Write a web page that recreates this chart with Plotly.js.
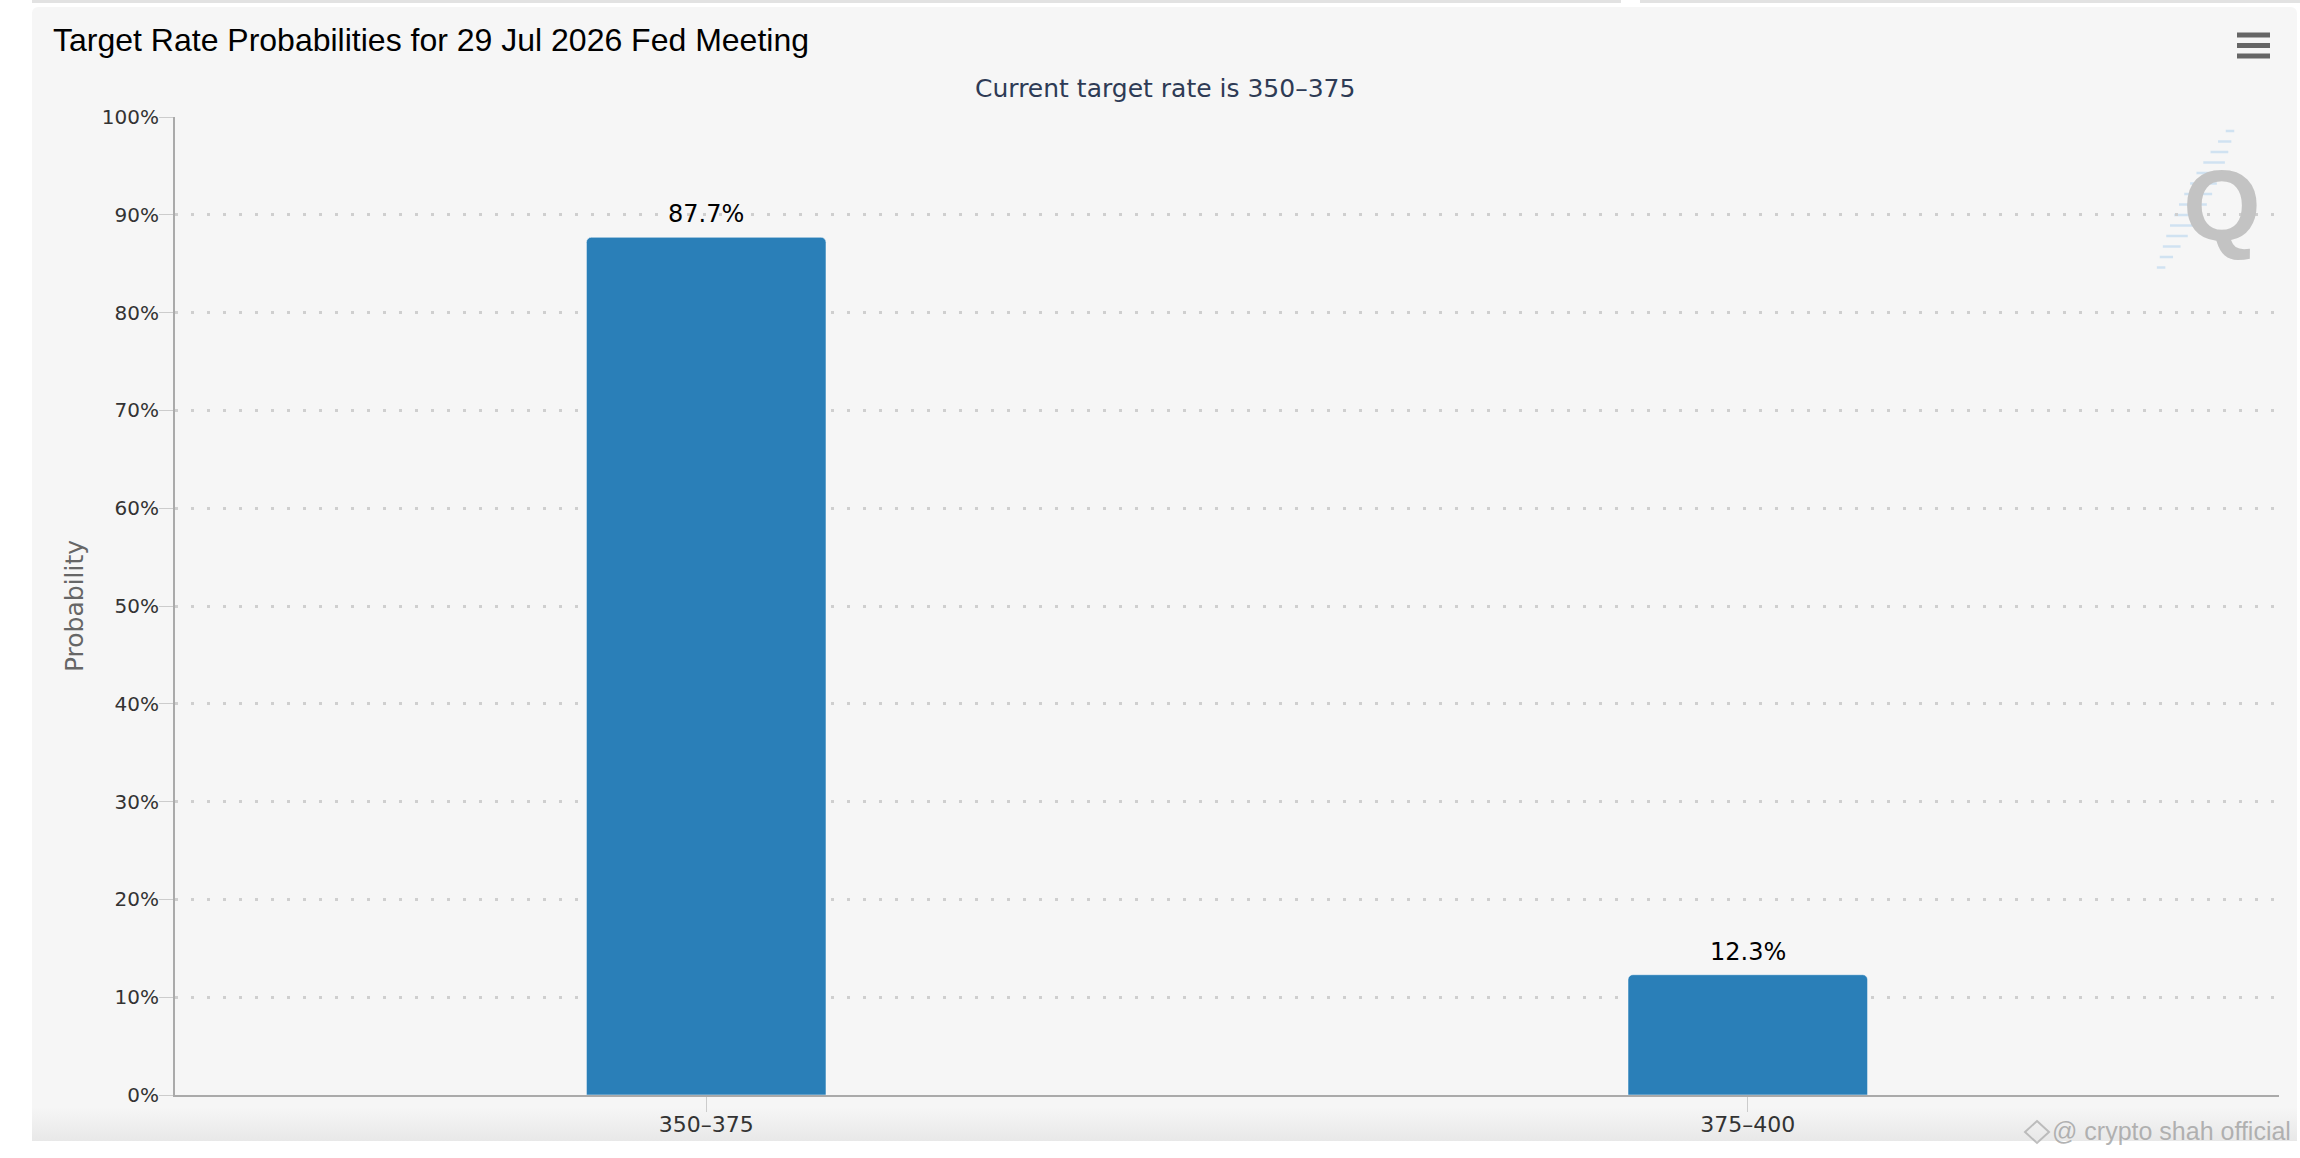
<!DOCTYPE html>
<html>
<head>
<meta charset="utf-8">
<script src="https://cdn.plot.ly/plotly-3.0.1.min.js"></script>
<style>
  html, body { margin: 0; padding: 0; background: #ffffff; width: 2300px; height: 1158px; overflow: hidden; }
  #topline1 { position: absolute; left: 32px; top: 0; width: 1589px; height: 3px; background: #e2e2e2; }
  #topline2 { position: absolute; left: 1640px; top: 0; width: 660px; height: 3px; background: #e2e2e2; }
  #panel { position: absolute; left: 32px; top: 7px; width: 2265px; height: 1134px;
           background: linear-gradient(to bottom, #f6f6f6 0px, #f6f6f6 1100px, #e8e8e8 1134px);
           border-radius: 6px 6px 0 0; }
  #chart { position: absolute; left: 0; top: 0; width: 2300px; height: 1158px; }
</style>
</head>
<body>
<div id="topline1"></div>
<div id="topline2"></div>
<div id="panel"></div>
<div id="chart"></div>
<script>
// ---- data ----
const categories = ['350\u2013375', '375\u2013400'];
const probabilities = [87.7, 12.3];
const yTickVals = [0, 10, 20, 30, 40, 50, 60, 70, 80, 90, 100];
const yTickText = ['0%', '10%', '20%', '30%', '40%', '50%', '60%', '70%', '80%', '90%', '100%'];
const chartTitle = 'Target Rate Probabilities for 29 Jul 2026 Fed Meeting';
const subtitleText = 'Current target rate is 350\u2013375';
const yAxisTitle = 'Probability';
const watermarkText = '@ crypto shah official';

// ---- geometry helpers (pixel -> paper) ----
const W = 2300, H = 1158;
const PL = 175, PR = 2279, PT = 117, PB = 1095;
function px(x) { return (x - PL) / (PR - PL); }
function py(y) { return (PB - y) / (PB - PT); }

const sansFont = 'DejaVu Sans, Verdana, sans-serif';

const trace = {
  type: 'bar',
  x: categories,
  y: probabilities,
  marker: { color: '#2a7fb8', cornerradius: 5, line: { color: 'rgba(255,255,255,0.5)', width: 1 } },
  hoverinfo: 'none',
  showlegend: false
};

// value labels above bars, placed through the data scales
const valueLabels = categories.map(function (c, i) {
  return { text: probabilities[i].toFixed(1) + '%', x: c, y: probabilities[i],
    xref: 'x', yref: 'y', xanchor: 'center', yanchor: 'bottom', yshift: 7,
    showarrow: false, font: { family: sansFont, size: 24, color: '#000000' } };
});

// decorative shapes: hamburger menu + logo stripes
const shapes = [];
[35, 45.5, 56].forEach(function (cy) {
  shapes.push({ type: 'rect', xref: 'paper', yref: 'paper',
    x0: px(2237), x1: px(2270), y0: py(cy + 2.6), y1: py(cy - 2.6),
    fillcolor: '#666666', line: { width: 0 }, layer: 'above' });
});
for (let i = 0; i < 14; i++) {
  const cy = 131 + i * 10.5;
  const cx = 2230 - i * 5.3;
  const half = 3 + 11 * Math.sin(Math.PI * (i + 0.5) / 14);
  shapes.push({ type: 'line', xref: 'paper', yref: 'paper',
    x0: px(cx - half), x1: px(cx + half), y0: py(cy), y1: py(cy),
    line: { color: 'rgba(110,175,230,0.28)', width: 2.5 }, layer: 'below' });
}
// small diamond logo before watermark
shapes.push({ type: 'path', xref: 'paper', yref: 'paper',
  path: 'M ' + px(2037) + ' ' + py(1121) + ' L ' + px(2049) + ' ' + py(1132) +
        ' L ' + px(2037) + ' ' + py(1143) + ' L ' + px(2025) + ' ' + py(1132) + ' Z',
  line: { color: 'rgba(175,175,175,0.8)', width: 2 }, fillcolor: 'rgba(0,0,0,0)', layer: 'above' });

const layout = {
  width: W, height: H,
  margin: { l: PL, r: W - PR, t: PT, b: H - PB, pad: 0 },
  paper_bgcolor: 'rgba(0,0,0,0)',
  plot_bgcolor: 'rgba(0,0,0,0)',
  bargap: 0.77,
  title: {
    text: chartTitle,
    font: { family: 'Liberation Sans, Arial, Helvetica, sans-serif', size: 32, color: '#000000' },
    xref: 'container', x: 53 / W, xanchor: 'left',
    yref: 'container', y: 1 - 40 / H, yanchor: 'middle'
  },
  xaxis: {
    type: 'category',
    range: [-0.51, 1.51],
    showline: true, linecolor: '#aaaaaa', linewidth: 2,
    ticks: 'outside', ticklen: 15, tickcolor: '#cccccc', tickwidth: 1,
    ticklabelstandoff: -6,
    tickfont: { family: sansFont, size: 22, color: '#333333' },
    showgrid: false, zeroline: false, fixedrange: true
  },
  yaxis: {
    range: [0, 100],
    tickmode: 'array', tickvals: yTickVals, ticktext: yTickText,
    showline: true, linecolor: '#aaaaaa', linewidth: 2,
    ticks: 'outside', ticklen: 14, tickcolor: '#cccccc', tickwidth: 1,
    ticklabelstandoff: -4,
    tickfont: { family: sansFont, size: 20, color: '#333333' },
    showgrid: true, gridcolor: '#cfcfcf', gridwidth: 3, griddash: '3px,13px',
    zeroline: false, fixedrange: true,
    title: { text: yAxisTitle, standoff: 11,
      font: { family: sansFont, size: 25, color: '#666666' } }
  },
  annotations: [
    { text: subtitleText, xref: 'paper', yref: 'paper', x: px(1165), y: py(88),
      xanchor: 'center', yanchor: 'middle', showarrow: false,
      font: { family: sansFont, size: 25, color: '#2e3b55' } },
    { text: '<b>Q</b>', xref: 'paper', yref: 'paper', x: px(2222), y: py(205),
      xanchor: 'center', yanchor: 'middle', showarrow: false,
      font: { family: 'Liberation Sans Narrow, Liberation Sans, Arial', size: 100, color: '#c3c3c3' } },
    { text: watermarkText, xref: 'paper', yref: 'paper', x: px(2293), y: py(1131),
      xanchor: 'right', yanchor: 'middle', showarrow: false,
      font: { family: 'Liberation Sans, Arial, sans-serif', size: 25, color: 'rgba(165,165,165,0.85)' } }
  ].concat(valueLabels),
  shapes: shapes
};

Plotly.newPlot('chart', [trace], layout, { displayModeBar: false, staticPlot: true });
</script>
</body>
</html>
